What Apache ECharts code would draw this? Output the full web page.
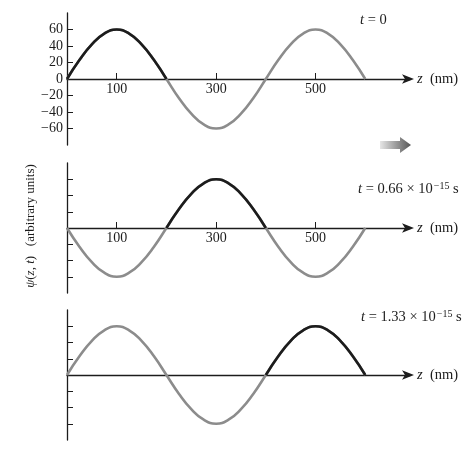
<!DOCTYPE html>
<html><head><meta charset="utf-8">
<script src="https://cdn.jsdelivr.net/npm/echarts@6/dist/echarts.min.js"></script>
<style>html,body{margin:0;padding:0;background:#fff}#c{width:474px;height:454px}</style>
</head><body><div id="c"></div>
<script>
// z positions (nm)
const zValues = [0,25,50,75,100,125,150,175,200,225,250,275,300,325,350,375,400,425,450,475,500,525,550,575,600];
// wave values (arbitrary units)
const wave1 = [0,23,42,55,60,55,42,23,0,-23,-42,-55,-60,-55,-42,-23,0,23,42,55,60,55,42,23,0];
const wave2 = [0,-23,-42,-55,-60,-55,-42,-23,0,23,42,55,60,55,42,23,0,-23,-42,-55,-60,-55,-42,-23,0];
const wave3 = [0,23,42,55,60,55,42,23,0,-23,-42,-55,-60,-55,-42,-23,0,23,42,55,60,55,42,23,0];
const waves = [wave1, wave2, wave3];
// black (highlighted) half-wavelength segment in each panel [zStart, zEnd]
const blackRanges = [[0,200],[200,400],[400,600]];
const xTicks = [100,300,500];
const yTicks = [-60,-40,-20,0,20,40,60];
const timeMantissa = ['0','0.66','1.33'];

const FONT = 'Liberation Serif';
const INK = '#1c1c1c';
const GRAY = '#8c8c8c';

const chart = echarts.init(document.getElementById('c'), null, {renderer:'canvas'});

const grids = [
  {left:67, top:13, width:343, height:132},
  {left:67, top:163, width:343, height:130},
  {left:67, top:310, width:343, height:130}
];

const xAxes = [], yAxes = [], series = [];
for (let i = 0; i < 3; i++) {
  xAxes.push({
    type:'value', gridIndex:i, min:0, max:690,
    axisLine:{show:true, onZero:true, symbol:['none','arrow'], symbolSize:[7,12], symbolOffset:[0,4],
      lineStyle:{color:INK, width:1.3}},
    axisTick:{show:i<2, inside:true, length:6, customValues:xTicks, lineStyle:{color:INK, width:1}},
    axisLabel:{show:i<2, customValues:xTicks, fontFamily:FONT, fontSize:14, color:INK,
      margin:-Math.round(grids[i].height/2) + 3},
    splitLine:{show:false}
  });
  yAxes.push({
    type:'value', gridIndex:i, min:-80, max:80,
    axisLine:{show:true, onZero:false, lineStyle:{color:INK, width:1.3}},
    axisTick:{show:true, inside:true, length:6, customValues:yTicks, lineStyle:{color:INK, width:1}},
    axisLabel:{show:i===0, customValues:yTicks, fontFamily:FONT, fontSize:14, color:INK, margin:4,
      formatter:v => String(v).replace('-', '\u2212')},
    splitLine:{show:false}
  });
  const full = zValues.map((z, k) => [z, waves[i][k]]);
  const seg = full.filter(p => p[0] >= blackRanges[i][0] && p[0] <= blackRanges[i][1]);
  series.push({type:'line', xAxisIndex:i, yAxisIndex:i, data:full, smooth:true, showSymbol:false,
    lineStyle:{color:GRAY, width:2.6}, z:2, silent:true});
  series.push({type:'line', xAxisIndex:i, yAxisIndex:i, data:seg, smooth:true, showSymbol:false,
    lineStyle:{color:INK, width:2.6}, z:3, silent:true});
}

const rich = {
  i:{fontFamily:FONT, fontSize:14.5, fontStyle:'italic', fill:INK},
  n:{fontFamily:FONT, fontSize:14.5, fill:INK},
  s:{fontFamily:FONT, fontSize:10, fill:INK, verticalAlign:'top', lineHeight:14, padding:[0,0,0,1]},
  yi:{fontFamily:FONT, fontSize:13, fontStyle:'italic', fill:INK},
  yn:{fontFamily:FONT, fontSize:13, fill:INK}
};
function timeText(i) {
  if (i === 0) return '{i|t}{n| = ' + timeMantissa[i] + '}';
  return '{i|t}{n| = ' + timeMantissa[i] + ' \u00d7 10}{s|\u221215}{n| s}';
}
const labelPos = [[360,20],[358,189],[361,317]];
const zeroY = [79,228,375];
const graphic = [];
for (let i = 0; i < 3; i++) {
  graphic.push({type:'text', x:labelPos[i][0], y:labelPos[i][1],
    style:{text:timeText(i), rich:rich, textAlign:'left', textVerticalAlign:'middle'}});
  graphic.push({type:'text', x:417, y:zeroY[i],
    style:{text:'{i|z}{n|  (nm)}', rich:rich, textAlign:'left', textVerticalAlign:'middle'}});
}
graphic.push({type:'text', x:31, y:226, rotation:Math.PI/2,
  style:{text:'{yi|\u03c8}{yn|(}{yi|z}{yn|, }{yi|t}{yn|)   (arbitrary units)}', rich:rich, textAlign:'center', textVerticalAlign:'middle'}});
graphic.push({type:'polygon',
  shape:{points:[[380,141],[400,141],[400,137],[411,145],[400,153],[400,149],[380,149]]},
  style:{fill:new echarts.graphic.LinearGradient(0,0,1,0,[{offset:0,color:'#e6e6e6'},{offset:1,color:'#555'}])}});

chart.setOption({
  animation:false,
  backgroundColor:'#fff',
  grid:grids, xAxis:xAxes, yAxis:yAxes, series:series, graphic:graphic
});
</script></body></html>
